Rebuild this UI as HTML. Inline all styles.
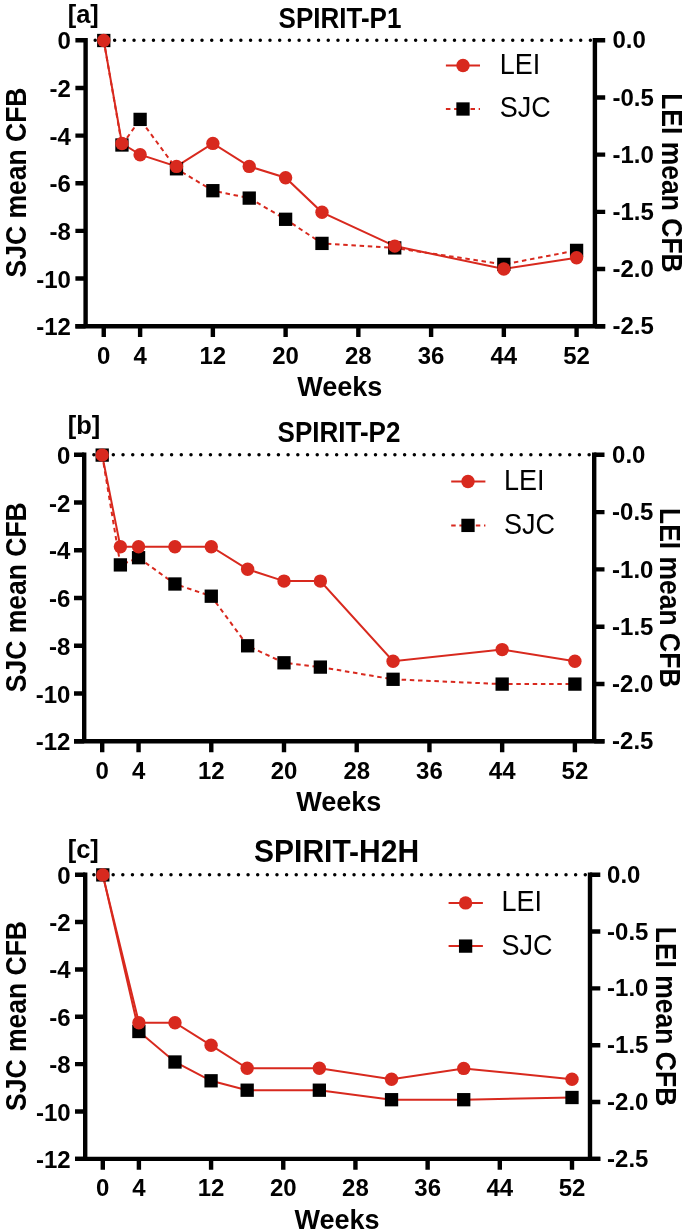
<!DOCTYPE html>
<html><head><meta charset="utf-8"><style>
html,body{margin:0;padding:0;background:#fff;width:685px;height:1232px;overflow:hidden}
svg{display:block}
text{font-family:"Liberation Sans",sans-serif;fill:#000}
.tk{font-size:24px;font-weight:bold}
.ax{font-size:26.5px;font-weight:bold}
.wk{font-size:27px;font-weight:bold}
.ti{font-weight:bold}
.pl{font-size:25.5px;font-weight:bold}
.lg{font-size:27px}
</style></head><body>
<svg width="685" height="1232" viewBox="0 0 685 1232">
<rect width="685" height="1232" fill="#fff"/>
<path d="M95.2 40.3h0M104.91 40.3h0M114.62 40.3h0M124.33 40.3h0M134.04 40.3h0M143.75 40.3h0M153.46 40.3h0M163.17 40.3h0M172.88 40.3h0M182.59 40.3h0M192.3 40.3h0M202.01 40.3h0M211.72 40.3h0M221.43 40.3h0M231.14 40.3h0M240.85 40.3h0M250.56 40.3h0M260.27 40.3h0M269.98 40.3h0M279.69 40.3h0M289.4 40.3h0M299.11 40.3h0M308.82 40.3h0M318.53 40.3h0M328.24 40.3h0M337.95 40.3h0M347.66 40.3h0M357.37 40.3h0M367.08 40.3h0M376.79 40.3h0M386.5 40.3h0M396.21 40.3h0M405.92 40.3h0M415.63 40.3h0M425.34 40.3h0M435.05 40.3h0M444.76 40.3h0M454.47 40.3h0M464.18 40.3h0M473.89 40.3h0M483.6 40.3h0M493.31 40.3h0M503.02 40.3h0M512.73 40.3h0M522.44 40.3h0M532.15 40.3h0M541.86 40.3h0M551.57 40.3h0M561.28 40.3h0M570.99 40.3h0M580.7 40.3h0M590.41 40.3h0" stroke="#000" stroke-width="3.5" stroke-linecap="round"/>
<path d="M85.6 38.1V326.2M75.4 326.2H605.2M594.9 38.1V326.2" stroke="#000" stroke-width="4.4" fill="none"/>
<path d="M75.4 40.3H85.6M75.4 87.95H85.6M75.4 135.6H85.6M75.4 183.25H85.6M75.4 230.9H85.6M75.4 278.55H85.6M75.4 326.2H85.6M594.9 40.3H605.2M594.9 97.48H605.2M594.9 154.66H605.2M594.9 211.84H605.2M594.9 269.02H605.2M594.9 326.2H605.2M103.75 326.2V337.1M140.12 326.2V337.1M212.87 326.2V337.1M285.61 326.2V337.1M358.35 326.2V337.1M431.1 326.2V337.1M503.84 326.2V337.1M576.59 326.2V337.1" stroke="#000" stroke-width="4.4" fill="none"/>
<polyline points="103.75,40.5 121.94,145 140.12,119.4 176.49,168.8 212.87,190.7 249.24,198.1 285.61,219.3 321.98,243.4 394.73,247.9 503.84,264.4 576.59,250.4" stroke="#d8291e" stroke-width="2.0" fill="none" stroke-dasharray="4.5 3.7"/>
<polyline points="103.75,40.5 121.94,143.5 140.12,154.7 176.49,166.4 212.87,143.4 249.24,166.4 285.61,177.7 321.98,212.3 394.73,246.1 503.84,269 576.59,257.7" stroke="#d8291e" stroke-width="2.0" fill="none"/>
<rect x="97.1" y="33.85" width="13.3" height="13.3" fill="#000"/>
<rect x="115.29" y="138.35" width="13.3" height="13.3" fill="#000"/>
<rect x="133.47" y="112.75" width="13.3" height="13.3" fill="#000"/>
<rect x="169.84" y="162.15" width="13.3" height="13.3" fill="#000"/>
<rect x="206.22" y="184.05" width="13.3" height="13.3" fill="#000"/>
<rect x="242.59" y="191.45" width="13.3" height="13.3" fill="#000"/>
<rect x="278.96" y="212.65" width="13.3" height="13.3" fill="#000"/>
<rect x="315.33" y="236.75" width="13.3" height="13.3" fill="#000"/>
<rect x="388.08" y="241.25" width="13.3" height="13.3" fill="#000"/>
<rect x="497.19" y="257.75" width="13.3" height="13.3" fill="#000"/>
<rect x="569.94" y="243.75" width="13.3" height="13.3" fill="#000"/>
<circle cx="103.75" cy="40.5" r="6.7" fill="#d8291e"/>
<circle cx="121.94" cy="143.5" r="6.7" fill="#d8291e"/>
<circle cx="140.12" cy="154.7" r="6.7" fill="#d8291e"/>
<circle cx="176.49" cy="166.4" r="6.7" fill="#d8291e"/>
<circle cx="212.87" cy="143.4" r="6.7" fill="#d8291e"/>
<circle cx="249.24" cy="166.4" r="6.7" fill="#d8291e"/>
<circle cx="285.61" cy="177.7" r="6.7" fill="#d8291e"/>
<circle cx="321.98" cy="212.3" r="6.7" fill="#d8291e"/>
<circle cx="394.73" cy="246.1" r="6.7" fill="#d8291e"/>
<circle cx="503.84" cy="269" r="6.7" fill="#d8291e"/>
<circle cx="576.59" cy="257.7" r="6.7" fill="#d8291e"/>
<path d="M445.9 65.5H480" stroke="#d8291e" stroke-width="2"/>
<circle cx="463" cy="65.5" r="6.7" fill="#d8291e"/>
<path d="M445.9 109H480" stroke="#d8291e" stroke-width="2" stroke-dasharray="4.5 3.7"/>
<rect x="456.35" y="102.35" width="13.3" height="13.3" fill="#000"/>
<path d="M93.9 454.8h0M103.61 454.8h0M113.32 454.8h0M123.03 454.8h0M132.74 454.8h0M142.45 454.8h0M152.16 454.8h0M161.87 454.8h0M171.58 454.8h0M181.29 454.8h0M191 454.8h0M200.71 454.8h0M210.42 454.8h0M220.13 454.8h0M229.84 454.8h0M239.55 454.8h0M249.26 454.8h0M258.97 454.8h0M268.68 454.8h0M278.39 454.8h0M288.1 454.8h0M297.81 454.8h0M307.52 454.8h0M317.23 454.8h0M326.94 454.8h0M336.65 454.8h0M346.36 454.8h0M356.07 454.8h0M365.78 454.8h0M375.49 454.8h0M385.2 454.8h0M394.91 454.8h0M404.62 454.8h0M414.33 454.8h0M424.04 454.8h0M433.75 454.8h0M443.46 454.8h0M453.17 454.8h0M462.88 454.8h0M472.59 454.8h0M482.3 454.8h0M492.01 454.8h0M501.72 454.8h0M511.43 454.8h0M521.14 454.8h0M530.85 454.8h0M540.56 454.8h0M550.27 454.8h0M559.98 454.8h0M569.69 454.8h0M579.4 454.8h0M589.11 454.8h0" stroke="#000" stroke-width="3.5" stroke-linecap="round"/>
<path d="M84.2 452.6V741.3M74 741.3H604.5M594.2 452.6V741.3" stroke="#000" stroke-width="4.4" fill="none"/>
<path d="M74 454.8H84.2M74 502.55H84.2M74 550.3H84.2M74 598.05H84.2M74 645.8H84.2M74 693.55H84.2M74 741.3H84.2M594.2 454.8H604.5M594.2 512.1H604.5M594.2 569.4H604.5M594.2 626.7H604.5M594.2 684H604.5M594.2 741.3H604.5M102.2 741.3V752.2M138.56 741.3V752.2M211.28 741.3V752.2M284 741.3V752.2M356.72 741.3V752.2M429.44 741.3V752.2M502.16 741.3V752.2M574.88 741.3V752.2" stroke="#000" stroke-width="4.4" fill="none"/>
<polyline points="102.2,455.1 120.38,564.9 138.56,557.7 174.92,584 211.28,596.2 247.64,645.8 284,662.8 320.36,667.1 393.08,679.3 502.16,684.1 574.88,684.1" stroke="#d8291e" stroke-width="2.0" fill="none" stroke-dasharray="4.5 3.7"/>
<polyline points="102.2,455.1 120.38,546.7 138.56,546.7 174.92,546.7 211.28,546.7 247.64,569.3 284,581.1 320.36,581.1 393.08,661.2 502.16,649.6 574.88,661.2" stroke="#d8291e" stroke-width="2.0" fill="none"/>
<rect x="95.55" y="448.45" width="13.3" height="13.3" fill="#000"/>
<rect x="113.73" y="558.25" width="13.3" height="13.3" fill="#000"/>
<rect x="131.91" y="551.05" width="13.3" height="13.3" fill="#000"/>
<rect x="168.27" y="577.35" width="13.3" height="13.3" fill="#000"/>
<rect x="204.63" y="589.55" width="13.3" height="13.3" fill="#000"/>
<rect x="240.99" y="639.15" width="13.3" height="13.3" fill="#000"/>
<rect x="277.35" y="656.15" width="13.3" height="13.3" fill="#000"/>
<rect x="313.71" y="660.45" width="13.3" height="13.3" fill="#000"/>
<rect x="386.43" y="672.65" width="13.3" height="13.3" fill="#000"/>
<rect x="495.51" y="677.45" width="13.3" height="13.3" fill="#000"/>
<rect x="568.23" y="677.45" width="13.3" height="13.3" fill="#000"/>
<circle cx="102.2" cy="455.1" r="6.7" fill="#d8291e"/>
<circle cx="120.38" cy="546.7" r="6.7" fill="#d8291e"/>
<circle cx="138.56" cy="546.7" r="6.7" fill="#d8291e"/>
<circle cx="174.92" cy="546.7" r="6.7" fill="#d8291e"/>
<circle cx="211.28" cy="546.7" r="6.7" fill="#d8291e"/>
<circle cx="247.64" cy="569.3" r="6.7" fill="#d8291e"/>
<circle cx="284" cy="581.1" r="6.7" fill="#d8291e"/>
<circle cx="320.36" cy="581.1" r="6.7" fill="#d8291e"/>
<circle cx="393.08" cy="661.2" r="6.7" fill="#d8291e"/>
<circle cx="502.16" cy="649.6" r="6.7" fill="#d8291e"/>
<circle cx="574.88" cy="661.2" r="6.7" fill="#d8291e"/>
<path d="M451.2 481.5H485.4" stroke="#d8291e" stroke-width="2"/>
<circle cx="468" cy="481.5" r="6.7" fill="#d8291e"/>
<path d="M451.2 525.4H485.4" stroke="#d8291e" stroke-width="2" stroke-dasharray="4.5 3.7"/>
<rect x="461.35" y="518.75" width="13.3" height="13.3" fill="#000"/>
<path d="M93.9 874.7h0M103.54 874.7h0M113.17 874.7h0M122.81 874.7h0M132.44 874.7h0M142.08 874.7h0M151.71 874.7h0M161.34 874.7h0M170.98 874.7h0M180.61 874.7h0M190.25 874.7h0M199.88 874.7h0M209.52 874.7h0M219.15 874.7h0M228.79 874.7h0M238.42 874.7h0M248.06 874.7h0M257.69 874.7h0M267.33 874.7h0M276.96 874.7h0M286.6 874.7h0M296.23 874.7h0M305.87 874.7h0M315.5 874.7h0M325.14 874.7h0M334.77 874.7h0M344.41 874.7h0M354.04 874.7h0M363.68 874.7h0M373.31 874.7h0M382.95 874.7h0M392.58 874.7h0M402.22 874.7h0M411.85 874.7h0M421.49 874.7h0M431.12 874.7h0M440.76 874.7h0M450.39 874.7h0M460.03 874.7h0M469.66 874.7h0M479.3 874.7h0M488.93 874.7h0M498.57 874.7h0M508.2 874.7h0M517.84 874.7h0M527.47 874.7h0M537.11 874.7h0M546.74 874.7h0M556.38 874.7h0M566.01 874.7h0M575.65 874.7h0M585.28 874.7h0" stroke="#000" stroke-width="3.5" stroke-linecap="round"/>
<path d="M85.2 872.5V1158.9M75 1158.9H600.3M590 872.5V1158.9" stroke="#000" stroke-width="4.4" fill="none"/>
<path d="M75 874.7H85.2M75 922.07H85.2M75 969.43H85.2M75 1016.8H85.2M75 1064.17H85.2M75 1111.53H85.2M75 1158.9H85.2M590 874.7H600.3M590 931.54H600.3M590 988.38H600.3M590 1045.22H600.3M590 1102.06H600.3M590 1158.9H600.3M102.8 1158.9V1169.8M138.89 1158.9V1169.8M211.08 1158.9V1169.8M283.26 1158.9V1169.8M355.44 1158.9V1169.8M427.63 1158.9V1169.8M499.81 1158.9V1169.8M572 1158.9V1169.8" stroke="#000" stroke-width="4.4" fill="none"/>
<polyline points="102.8,874.9 138.89,1031.5 174.98,1062 211.08,1080.8 247.17,1090.2 319.35,1090.2 391.54,1099.7 463.72,1099.7 572,1097.5" stroke="#d8291e" stroke-width="2.0" fill="none"/>
<polyline points="102.8,874.9 138.89,1022.7 174.98,1022.7 211.08,1045.3 247.17,1068.3 319.35,1068.3 391.54,1079.3 463.72,1068.4 572,1079.3" stroke="#d8291e" stroke-width="2.0" fill="none"/>
<rect x="96.15" y="868.25" width="13.3" height="13.3" fill="#000"/>
<rect x="132.24" y="1024.85" width="13.3" height="13.3" fill="#000"/>
<rect x="168.33" y="1055.35" width="13.3" height="13.3" fill="#000"/>
<rect x="204.43" y="1074.15" width="13.3" height="13.3" fill="#000"/>
<rect x="240.52" y="1083.55" width="13.3" height="13.3" fill="#000"/>
<rect x="312.7" y="1083.55" width="13.3" height="13.3" fill="#000"/>
<rect x="384.89" y="1093.05" width="13.3" height="13.3" fill="#000"/>
<rect x="457.07" y="1093.05" width="13.3" height="13.3" fill="#000"/>
<rect x="565.35" y="1090.85" width="13.3" height="13.3" fill="#000"/>
<circle cx="102.8" cy="874.9" r="6.7" fill="#d8291e"/>
<circle cx="138.89" cy="1022.7" r="6.7" fill="#d8291e"/>
<circle cx="174.98" cy="1022.7" r="6.7" fill="#d8291e"/>
<circle cx="211.08" cy="1045.3" r="6.7" fill="#d8291e"/>
<circle cx="247.17" cy="1068.3" r="6.7" fill="#d8291e"/>
<circle cx="319.35" cy="1068.3" r="6.7" fill="#d8291e"/>
<circle cx="391.54" cy="1079.3" r="6.7" fill="#d8291e"/>
<circle cx="463.72" cy="1068.4" r="6.7" fill="#d8291e"/>
<circle cx="572" cy="1079.3" r="6.7" fill="#d8291e"/>
<path d="M448.6 902.9H482.9" stroke="#d8291e" stroke-width="2"/>
<circle cx="465.6" cy="902.9" r="6.7" fill="#d8291e"/>
<path d="M448.6 946.1H482.9" stroke="#d8291e" stroke-width="2"/>
<rect x="458.95" y="939.45" width="13.3" height="13.3" fill="#000"/>
<g style="opacity:0.999">
<text transform="translate(70.9 49.3) scale(1 0.96)" class="tk" text-anchor="end">0</text>
<text transform="translate(70.9 96.95) scale(1 0.96)" class="tk" text-anchor="end">-2</text>
<text transform="translate(70.9 144.6) scale(1 0.96)" class="tk" text-anchor="end">-4</text>
<text transform="translate(70.9 192.25) scale(1 0.96)" class="tk" text-anchor="end">-6</text>
<text transform="translate(70.9 239.9) scale(1 0.96)" class="tk" text-anchor="end">-8</text>
<text transform="translate(70.9 287.55) scale(1 0.96)" class="tk" text-anchor="end">-10</text>
<text transform="translate(70.9 335.2) scale(1 0.96)" class="tk" text-anchor="end">-12</text>
<text transform="translate(612.5 48.4) scale(1 0.96)" class="tk">0.0</text>
<text transform="translate(612.5 105.58) scale(1 0.96)" class="tk">-0.5</text>
<text transform="translate(612.5 162.76) scale(1 0.96)" class="tk">-1.0</text>
<text transform="translate(612.5 219.94) scale(1 0.96)" class="tk">-1.5</text>
<text transform="translate(612.5 277.12) scale(1 0.96)" class="tk">-2.0</text>
<text transform="translate(612.5 334.3) scale(1 0.96)" class="tk">-2.5</text>
<text transform="translate(103.75 363.7) scale(1 0.96)" class="tk" text-anchor="middle">0</text>
<text transform="translate(140.12 363.7) scale(1 0.96)" class="tk" text-anchor="middle">4</text>
<text transform="translate(212.87 363.7) scale(1 0.96)" class="tk" text-anchor="middle">12</text>
<text transform="translate(285.61 363.7) scale(1 0.96)" class="tk" text-anchor="middle">20</text>
<text transform="translate(358.35 363.7) scale(1 0.96)" class="tk" text-anchor="middle">28</text>
<text transform="translate(431.1 363.7) scale(1 0.96)" class="tk" text-anchor="middle">36</text>
<text transform="translate(503.84 363.7) scale(1 0.96)" class="tk" text-anchor="middle">44</text>
<text transform="translate(576.59 363.7) scale(1 0.96)" class="tk" text-anchor="middle">52</text>
<text transform="translate(339.7 396.1)" class="wk" text-anchor="middle">Weeks</text>
<text transform="translate(26 182.45) rotate(-90) scale(1 1.11)" class="ax" text-anchor="middle">SJC mean CFB</text>
<text transform="translate(661.5 182.95) rotate(90) scale(1 1.11)" class="ax" text-anchor="middle">LEI mean CFB</text>
<text transform="translate(340 27.8) scale(1 1.1)" class="ti" text-anchor="middle" style="font-size:26px">SPIRIT-P1</text>
<text transform="translate(67.7 23.2) scale(1 1.04)" class="pl">[a]</text>
<text transform="translate(499.8 73.9) scale(1 1.06)" class="lg">LEI</text>
<text transform="translate(499.8 117.4) scale(1 1.06)" class="lg">SJC</text>
<text transform="translate(70.4 463.8) scale(1 0.96)" class="tk" text-anchor="end">0</text>
<text transform="translate(70.4 511.55) scale(1 0.96)" class="tk" text-anchor="end">-2</text>
<text transform="translate(70.4 559.3) scale(1 0.96)" class="tk" text-anchor="end">-4</text>
<text transform="translate(70.4 607.05) scale(1 0.96)" class="tk" text-anchor="end">-6</text>
<text transform="translate(70.4 654.8) scale(1 0.96)" class="tk" text-anchor="end">-8</text>
<text transform="translate(70.4 702.55) scale(1 0.96)" class="tk" text-anchor="end">-10</text>
<text transform="translate(70.4 750.3) scale(1 0.96)" class="tk" text-anchor="end">-12</text>
<text transform="translate(612.1 462.9) scale(1 0.96)" class="tk">0.0</text>
<text transform="translate(612.1 520.2) scale(1 0.96)" class="tk">-0.5</text>
<text transform="translate(612.1 577.5) scale(1 0.96)" class="tk">-1.0</text>
<text transform="translate(612.1 634.8) scale(1 0.96)" class="tk">-1.5</text>
<text transform="translate(612.1 692.1) scale(1 0.96)" class="tk">-2.0</text>
<text transform="translate(612.1 749.4) scale(1 0.96)" class="tk">-2.5</text>
<text transform="translate(102.2 778.8) scale(1 0.96)" class="tk" text-anchor="middle">0</text>
<text transform="translate(138.56 778.8) scale(1 0.96)" class="tk" text-anchor="middle">4</text>
<text transform="translate(211.28 778.8) scale(1 0.96)" class="tk" text-anchor="middle">12</text>
<text transform="translate(284 778.8) scale(1 0.96)" class="tk" text-anchor="middle">20</text>
<text transform="translate(356.72 778.8) scale(1 0.96)" class="tk" text-anchor="middle">28</text>
<text transform="translate(429.44 778.8) scale(1 0.96)" class="tk" text-anchor="middle">36</text>
<text transform="translate(502.16 778.8) scale(1 0.96)" class="tk" text-anchor="middle">44</text>
<text transform="translate(574.88 778.8) scale(1 0.96)" class="tk" text-anchor="middle">52</text>
<text transform="translate(338.8 811.2)" class="wk" text-anchor="middle">Weeks</text>
<text transform="translate(25.6 597.25) rotate(-90) scale(1 1.11)" class="ax" text-anchor="middle">SJC mean CFB</text>
<text transform="translate(660.2 597.75) rotate(90) scale(1 1.11)" class="ax" text-anchor="middle">LEI mean CFB</text>
<text transform="translate(339 441.8) scale(1 1.1)" class="ti" text-anchor="middle" style="font-size:26px">SPIRIT-P2</text>
<text transform="translate(67.7 434.1) scale(1 1.04)" class="pl">[b]</text>
<text transform="translate(504 489.9) scale(1 1.06)" class="lg">LEI</text>
<text transform="translate(504 533.8) scale(1 1.06)" class="lg">SJC</text>
<text transform="translate(70.6 883.7) scale(1 0.96)" class="tk" text-anchor="end">0</text>
<text transform="translate(70.6 931.07) scale(1 0.96)" class="tk" text-anchor="end">-2</text>
<text transform="translate(70.6 978.43) scale(1 0.96)" class="tk" text-anchor="end">-4</text>
<text transform="translate(70.6 1025.8) scale(1 0.96)" class="tk" text-anchor="end">-6</text>
<text transform="translate(70.6 1073.17) scale(1 0.96)" class="tk" text-anchor="end">-8</text>
<text transform="translate(70.6 1120.53) scale(1 0.96)" class="tk" text-anchor="end">-10</text>
<text transform="translate(70.6 1167.9) scale(1 0.96)" class="tk" text-anchor="end">-12</text>
<text transform="translate(607.1 882.8) scale(1 0.96)" class="tk">0.0</text>
<text transform="translate(607.1 939.64) scale(1 0.96)" class="tk">-0.5</text>
<text transform="translate(607.1 996.48) scale(1 0.96)" class="tk">-1.0</text>
<text transform="translate(607.1 1053.32) scale(1 0.96)" class="tk">-1.5</text>
<text transform="translate(607.1 1110.16) scale(1 0.96)" class="tk">-2.0</text>
<text transform="translate(607.1 1167) scale(1 0.96)" class="tk">-2.5</text>
<text transform="translate(102.8 1196.4) scale(1 0.96)" class="tk" text-anchor="middle">0</text>
<text transform="translate(138.89 1196.4) scale(1 0.96)" class="tk" text-anchor="middle">4</text>
<text transform="translate(211.08 1196.4) scale(1 0.96)" class="tk" text-anchor="middle">12</text>
<text transform="translate(283.26 1196.4) scale(1 0.96)" class="tk" text-anchor="middle">20</text>
<text transform="translate(355.44 1196.4) scale(1 0.96)" class="tk" text-anchor="middle">28</text>
<text transform="translate(427.63 1196.4) scale(1 0.96)" class="tk" text-anchor="middle">36</text>
<text transform="translate(499.81 1196.4) scale(1 0.96)" class="tk" text-anchor="middle">44</text>
<text transform="translate(572 1196.4) scale(1 0.96)" class="tk" text-anchor="middle">52</text>
<text transform="translate(337 1228.8)" class="wk" text-anchor="middle">Weeks</text>
<text transform="translate(25.6 1016) rotate(-90) scale(1 1.11)" class="ax" text-anchor="middle">SJC mean CFB</text>
<text transform="translate(655.8 1016.5) rotate(90) scale(1 1.11)" class="ax" text-anchor="middle">LEI mean CFB</text>
<text transform="translate(336.6 862.1) scale(1 1.06)" class="ti" text-anchor="middle" style="font-size:30px">SPIRIT-H2H</text>
<text transform="translate(67.7 858) scale(1 1.04)" class="pl">[c]</text>
<text transform="translate(501.6 911.3) scale(1 1.06)" class="lg">LEI</text>
<text transform="translate(501.6 954.5) scale(1 1.06)" class="lg">SJC</text>
</g>
</svg>
</body></html>
